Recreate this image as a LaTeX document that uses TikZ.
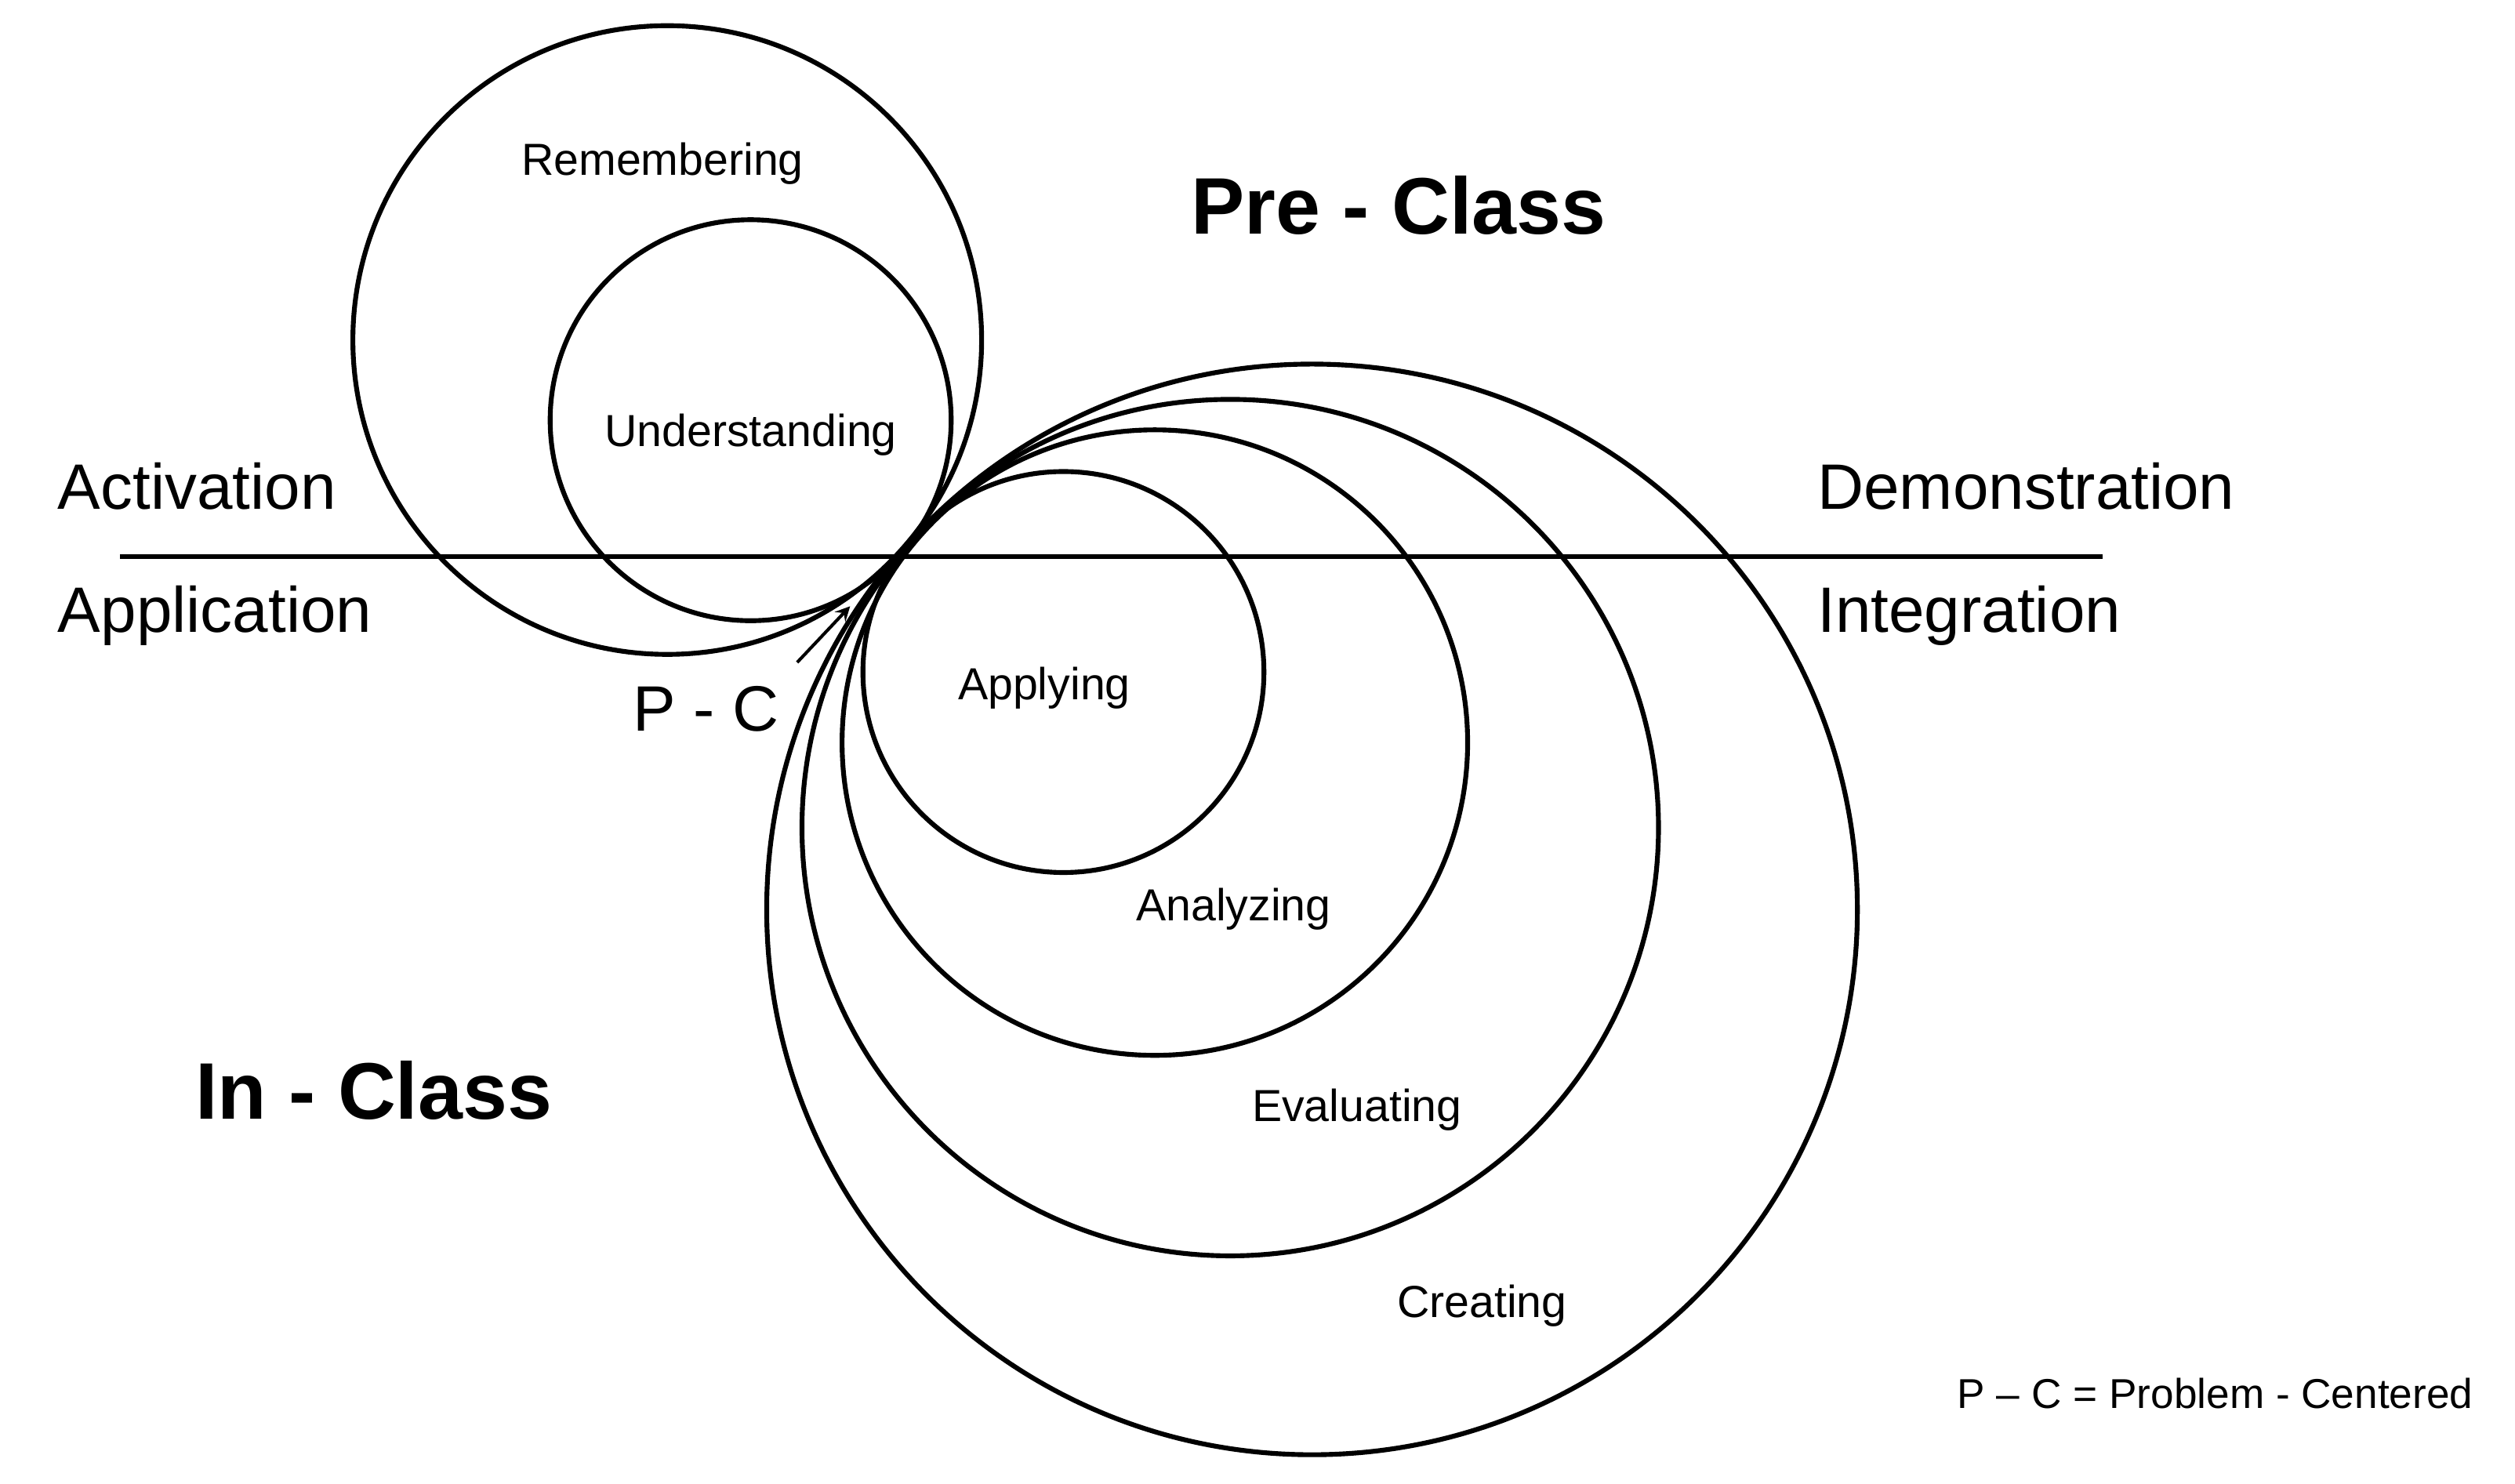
\documentclass[tikz,border=0pt]{standalone}
\usepackage{fontspec}
\setmainfont{Liberation Sans}
\begin{document}
\begin{tikzpicture}[x=0.5pt,y=-0.5pt,line width=1.5pt,
  lab/.style={font=\fontsize{14}{16}\selectfont},
  side/.style={font=\fontsize{20}{22}\selectfont,anchor=west},
  big/.style={font=\fontsize{25}{28}\selectfont\bfseries}]
\useasboundingbox (0,0) rectangle (1568,925);
\draw (416,212) circle[radius=196];
\draw (468,262) circle[radius=125];
\draw (663,419) circle[radius=125];
\draw (720,463) circle[radius=195];
\draw (767,516) circle[radius=267];
\draw (818,567) circle[radius=340];
\coordinate (l1) at (75,347);
\coordinate (l2) at (1311,347);
\draw (l1) -- (l2);
\node[lab] (rem) at (413,102) {Remembering};
\node[lab] (und) at (468,271) {Understanding};
\node[lab] (app) at (651,429) {Applying};
\node[lab] (ana) at (769,567) {Analyzing};
\node[lab] (eva) at (846,692) {Evaluating};
\node[lab] (cre) at (924,814) {Creating};
\node[side] (act) at (28,303) {Activation};
\node[side] (apl) at (28,384) {Application};
\node[side] (dem) at (1125,303) {Demonstration};
\node[side] (int) at (1125,384) {Integration};
\node[big] (pre) at (872,128) {Pre - Class};
\node[big] (inc) at (233,680) {In - Class};
\node[font=\fontsize{20}{22}\selectfont] (pc) at (440,442) {P - C};
\coordinate (tip) at (530,378);
\draw[line width=1pt,-stealth] (497,413) -- (tip);
\node[font=\fontsize{13}{15}\selectfont,anchor=east] (note) at (1550,869) {P -- C = Problem - Centered};
\end{tikzpicture}
\end{document}
